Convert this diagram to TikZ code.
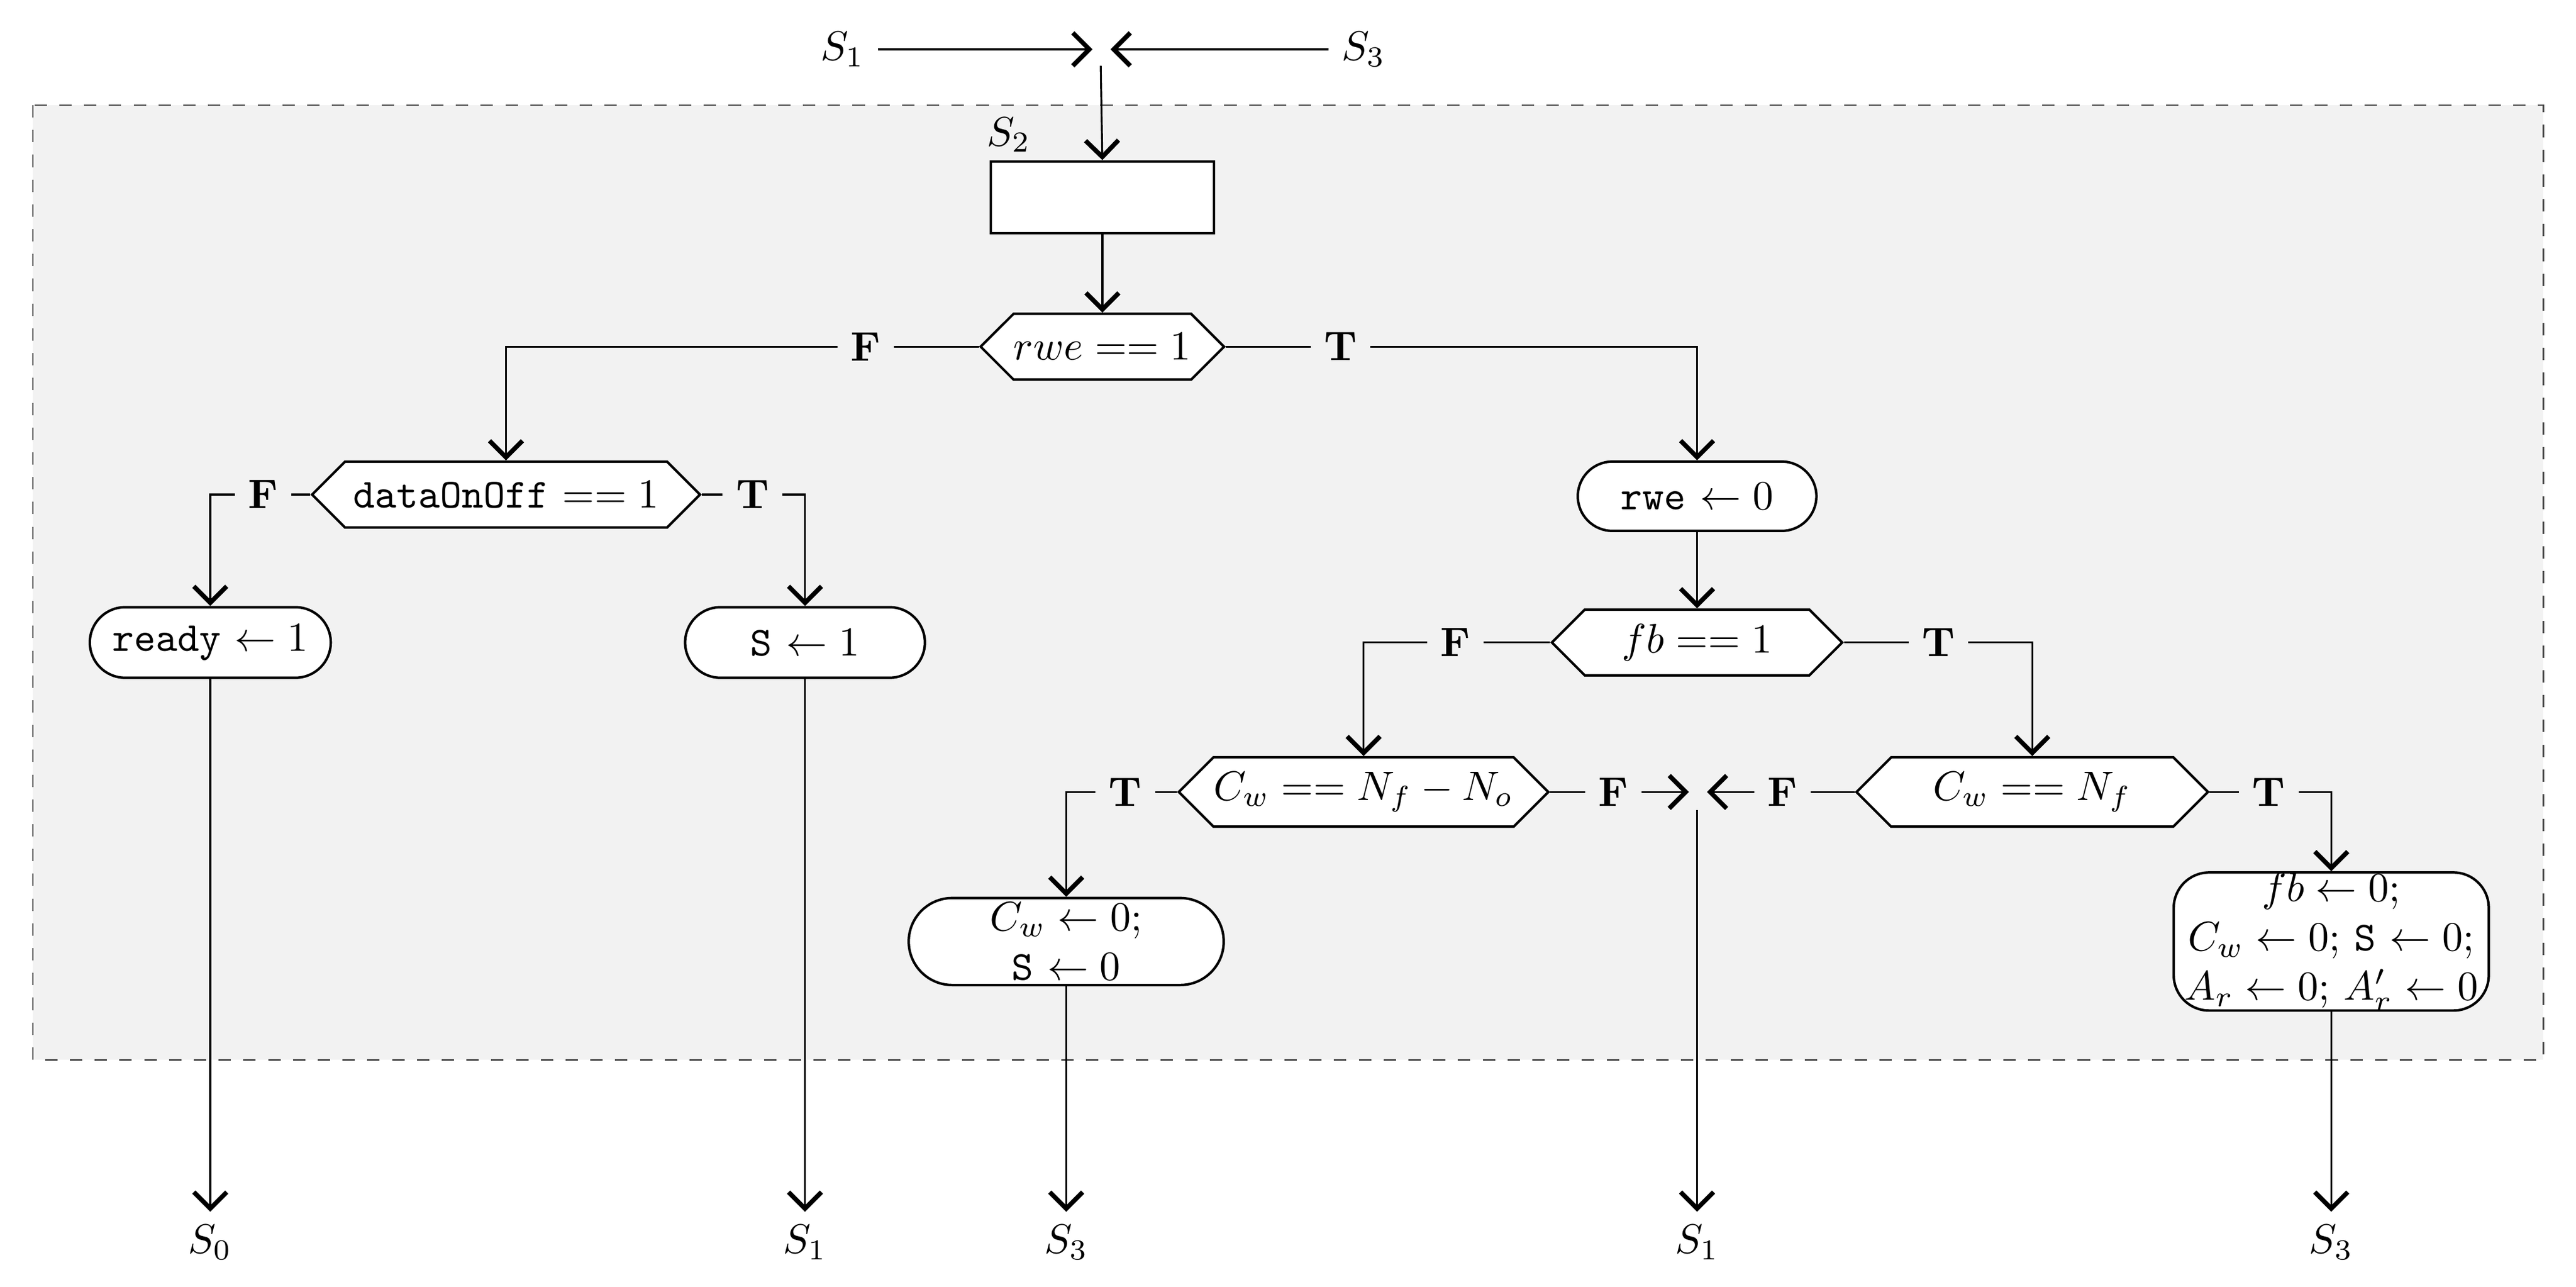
\documentclass[tikz,border=0pt]{standalone}
\usetikzlibrary{arrows.meta,bending,shapes.misc,shapes.symbols}
\definecolor{bg}{HTML}{F2F2F2}
\begin{document}
\begin{tikzpicture}[x=0.01397cm,y=-0.01397cm,
  arr/.style={-{Straight Barb[bend,length=0.14cm,width=0.28cm,line width=1.1pt]}},
  line/.style={line width=0.45pt},
  hex/.style={draw,line width=0.6pt,fill=white,signal,signal to=west and east,signal pointer angle=90,inner sep=0pt,minimum height=0.56cm},
  rr/.style={draw,line width=0.6pt,fill=white,rounded rectangle,inner sep=0pt,minimum height=0.59cm},
  lab/.style={inner sep=3pt,font=\bfseries},
  term/.style={inner sep=3pt}]
\useasboundingbox (0,0) rectangle (1568,783);
\draw[dashed,fill=bg,line width=0.4pt,draw=black!70] (20,64) rectangle (1548,645);
% top
\node[term] (S1t) at (513,30) {$S_1$};
\node[term] (S3t) at (830,30) {$S_3$};
\coordinate (jL) at (665,30);
\coordinate (jR) at (676,30);
\coordinate (jT) at (670,40);
\node[draw,line width=0.6pt,fill=white,minimum width=1.90cm,minimum height=0.61cm,inner sep=0pt] (box) at (671,120) {};
\node (S2) at (614,82) {$S_2$};
\draw[line,arr] (S1t) -- (jL);
\draw[line,arr] (S3t) -- (jR);
\draw[line,arr] (jT) -- (box.north);
% hexagons and actions
\node[hex,minimum width=2.03cm] (rwe) at (671,211) {$rwe == 1$};
\node[hex,minimum width=3.30cm] (don) at (308,301) {\texttt{dataOnOff} $== 1$};
\node[rr,minimum width=2.03cm] (rwe0) at (1033,302) {\texttt{rwe} $\leftarrow 0$};
\node[rr,minimum width=2.05cm,minimum height=0.6cm] (ready) at (128,391) {\texttt{ready} $\leftarrow 1$};
\node[rr,minimum width=2.04cm,minimum height=0.6cm] (s1) at (490,391) {\texttt{S} $\leftarrow 1$};
\node[hex,minimum width=2.47cm] (fb) at (1033,391) {$fb == 1$};
\node[hex,minimum width=2.99cm,minimum height=0.59cm] (cno) at (830,482) {$C_w == N_f - N_o$};
\node[hex,minimum width=2.99cm,minimum height=0.59cm] (cnf) at (1237,482) {$C_w == N_f$};
\node[rr,minimum width=2.68cm,minimum height=0.74cm,align=center] (cw0) at (649,573) {$C_w \leftarrow 0$;\\\texttt{S} $\leftarrow 0$};
\node[draw,line width=0.6pt,fill=white,rounded corners=0.3cm,minimum width=2.68cm,minimum height=1.14cm,inner sep=0pt,align=center] (fb0) at (1419,573) {$fb \leftarrow 0$;\\$C_w \leftarrow 0$; \texttt{S} $\leftarrow 0$;\\$A_r \leftarrow 0$; $A_r' \leftarrow 0$};
% labels
\node[lab] (l1) at (527,211) {F};
\node[lab] (l2) at (816,211) {T};
\node[lab] (l3) at (160,301) {F};
\node[lab] (l4) at (458,301) {T};
\node[lab] (l5) at (886,391) {F};
\node[lab] (l6) at (1180,391) {T};
\node[lab] (l7) at (685,482) {T};
\node[lab] (l8) at (982,482) {F};
\node[lab] (l9) at (1085,482) {F};
\node[lab] (l10) at (1381,482) {T};
\coordinate (bL) at (1028,482);
\coordinate (bR) at (1039,482);
\coordinate (bT) at (1033,493);
% connectors
\draw[line,arr] (box.south) -- (rwe.north);
\draw[line,arr] (rwe.west) -- (l1) -| (don.north);
\draw[line,arr] (rwe.east) -- (l2) -| (rwe0.north);
\draw[line,arr] (rwe0.south) -- (fb.north);
\draw[line,arr] (don.west) -- (l3) -| (ready.north);
\draw[line,arr] (don.east) -- (l4) -| (s1.north);
\draw[line,arr] (fb.west) -- (l5) -| (cno.north);
\draw[line,arr] (fb.east) -- (l6) -| (cnf.north);
\draw[line,arr] (cno.west) -- (l7) -| (cw0.north);
\draw[line,arr] (cno.east) -- (l8) -- (bL);
\draw[line,arr] (cnf.west) -- (l9) -- (bR);
\draw[line,arr] (cnf.east) -- (l10) -| (fb0.north);
% outputs
\node[term] (o0) at (128,756) {$S_0$};
\node[term] (o1) at (490,756) {$S_1$};
\node[term] (o2) at (649,756) {$S_3$};
\node[term] (o3) at (1033,756) {$S_1$};
\node[term] (o4) at (1419,756) {$S_3$};
\draw[line,arr] (ready.south) -- (o0.north);
\draw[line,arr] (s1.south) -- (o1.north);
\draw[line,arr] (cw0.south) -- (o2.north);
\draw[line,arr] (bT) -- (o3.north);
\draw[line,arr] (fb0.south) -- (o4.north);
\end{tikzpicture}
\end{document}
